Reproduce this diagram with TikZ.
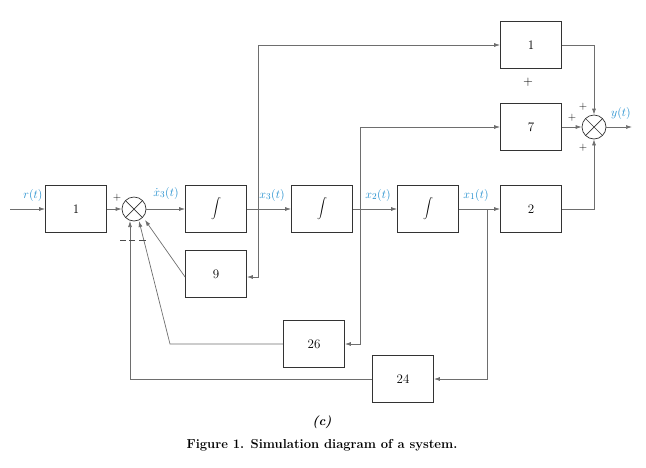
\documentclass[tikz,border=0pt]{standalone}
\usepackage{tikz}
\usetikzlibrary{arrows.meta}
\definecolor{lab}{RGB}{30,140,205}
\definecolor{ln}{RGB}{110,110,110}
\begin{document}
\begin{tikzpicture}[x=1pt,y=-1pt,
 blk/.style={draw=black!80,line width=0.8pt,minimum width=61pt,minimum height=47pt,inner sep=0pt,font=\fontsize{13}{15}\selectfont},
 sum/.style={draw=black!80,line width=0.7pt,circle,minimum size=24pt,inner sep=0pt},
 w/.style={draw=ln,line width=0.7pt},
 a/.style={w,-{Latex[length=6pt,width=4pt]}},
 lb/.style={text=lab,font=\fontsize{13}{15}\selectfont},
 pl/.style={font=\fontsize{11}{13}\selectfont}]
\useasboundingbox (0,0) rectangle (646,467);
\node[blk] (k1) at (76,209) {1};
\node[sum] (s1) at (134,209) {};
\draw[black!80,line width=0.7pt] (s1.north west)--(s1.south east) (s1.north east)--(s1.south west);
\node[blk] (i1) at (216,209) {$\displaystyle\int$};
\node[blk] (i2) at (322,209) {$\displaystyle\int$};
\node[blk] (i3) at (428,209) {$\displaystyle\int$};
\node[blk] (g2) at (531,209) {2};
\node[blk] (g1) at (531,45) {1};
\node[blk] (g7) at (531,127) {7};
\node[sum] (s2) at (594,127) {};
\draw[black!80,line width=0.7pt] (s2.north west)--(s2.south east) (s2.north east)--(s2.south west);
\node[blk] (k9) at (216,274) {9};
\node[blk] (k26) at (314,344) {26};
\node[blk] (k24) at (403,379) {24};
\coordinate (rin) at (10,209);
\coordinate (yout) at (632,127);
\draw[a] (rin)--(k1);
\draw[a] (k1)--(s1);
\draw[a] (s1)--(i1);
\draw[a] (i1)--(i2);
\draw[a] (i2)--(i3);
\draw[a] (i3)--(g2);
\draw[a] (258,209)--(258,45)--(g1.west);
\draw[a] (258,209)--(258,277)--(k9.east |- 0,277);
\draw[a] (360,209)--(360,127)--(g7.west);
\draw[a] (360,209)--(360,344)--(k26.east);
\draw[a] (487,209)--(487,379)--(k24.east);
\draw[a] (g1.east)--(594,45)--(s2.north);
\draw[a] (g7.east)--(s2.west);
\draw[a] (g2.east)--(594,209)--(s2.south);
\draw[a] (s2.east)--(yout);
\draw[a] (k9.west |- 0,277)--(145,220);
\draw[a] (k26.west)--(170,344)--(139,221);
\draw[a] (k24.west)--(130,379)--(130,221);
\draw[black!70,line width=0.7pt] (120,240)--(126,240) (129,240)--(135,240) (139,240)--(146,240);
\node[lb] at (33,195) {$r(t)$};
\node[lb] at (166,193) {$\dot{x}_3(t)$};
\node[lb] at (272,195) {$x_3(t)$};
\node[lb] at (378,195) {$x_2(t)$};
\node[lb] at (476,195) {$x_1(t)$};
\node[lb] at (621,113) {$y(t)$};
\node[pl] at (117,198) {+};
\node[pl] at (583,107) {+};
\node[pl] at (572,118) {+};
\node[pl] at (583,148) {+};
\node[font=\fontsize{13}{15}\selectfont] at (528,82) {+};
\node[font=\fontsize{13}{15}\selectfont] at (322,422) {\textbf{\textit{(c)}}};
\node[font=\fontsize{13}{15}\selectfont\bfseries] at (322,445) {Figure 1. Simulation diagram of a system.};
\end{tikzpicture}
\end{document}
